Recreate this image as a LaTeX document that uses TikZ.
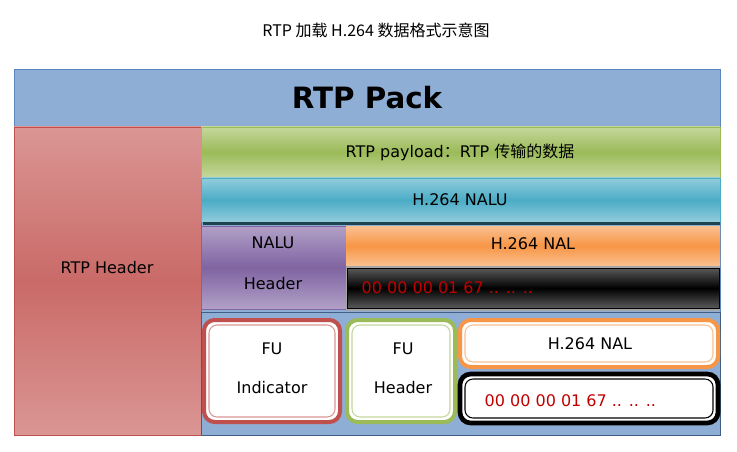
\documentclass[tikz,border=0pt]{standalone}
\usepackage{fontspec}
\setmainfont{DejaVu Sans}
\newfontfamily\cjk{Noto Sans CJK SC}
\definecolor{pblue}{HTML}{8EAED6}
\definecolor{pblueb}{HTML}{5B86C0}
\definecolor{pred}{HTML}{C0504D}
\definecolor{predl}{HTML}{DA9694}
\definecolor{pgreen}{HTML}{9BBB59}
\definecolor{pgreenl}{HTML}{C4D79B}
\definecolor{pcyan}{HTML}{4BACC6}
\definecolor{pcyanl}{HTML}{92CDDC}
\definecolor{ppurp}{HTML}{8064A2}
\definecolor{ppurpl}{HTML}{B1A0C7}
\definecolor{porange}{HTML}{F79646}
\definecolor{porangel}{HTML}{FAC090}
\definecolor{tred}{HTML}{C00000}
\tikzset{
  lbl/.style={font=\fontsize{12}{14}\selectfont},
  redtxt/.style={font=\fontsize{12}{14}\selectfont, text=tred, anchor=west},
  fubox/.style={rounded corners=8pt, line width=3pt, fill=white},
  inner/.style={rounded corners=6pt, draw=white, line width=0.8pt},
}
\begin{document}
\begin{tikzpicture}[x=0.75pt,y=-0.75pt]
\useasboundingbox (0,0) rectangle (737,452);
\node[font=\cjk\fontsize{12}{14}\selectfont] (title) at (376,30) {RTP 加载 H.264 数据格式示意图};
% outer
\fill[pblue] (14,69) rectangle (720,435);
\draw[pblueb] (14,69) rectangle (720,435);
\draw[pblueb] (14,69) rectangle (720,127);
\node[font=\bfseries\fontsize{22}{26}\selectfont] (pack) at (367,98) {RTP Pack};
% header
\shade[top color=predl, bottom color=predl, middle color=pred!85] (14,127) rectangle (201,435);
\draw[pred] (14,127) rectangle (201,435);
\node[lbl] (hdr) at (107,268) {RTP Header};
% payload
\shade[top color=pgreenl, bottom color=pgreenl, middle color=pgreen] (201,127) rectangle (720,177);
\draw[pgreen] (201,127) rectangle (720,177);
\node[lbl] (pl) at (460,152) {RTP payload{\cjk ：}RTP {\cjk 传输的数据}};
% nalu
\shade[top color=pcyanl, bottom color=pcyanl, middle color=pcyan] (201,178) rectangle (720,222);
\draw[pcyan] (201,178) rectangle (720,222);
\fill[pcyan!40!black] (203,222) rectangle (720,225);
\node[lbl] (nalu) at (460,200) {H.264 NALU};
% nalu header
\shade[top color=ppurpl, bottom color=ppurpl, middle color=ppurp] (201,226) rectangle (346,309);
\draw[ppurp] (201,226) rectangle (346,309);
\node[lbl] (nh1) at (273,243) {NALU};
\node[lbl] (nh2) at (273,284) {Header};
% h264 nal
\shade[top color=porangel, bottom color=porangel, middle color=porange] (346,226) rectangle (720,266);
\node[lbl] (nal) at (533,244) {H.264 NAL};
\fill[gray!70] (346,266) rectangle (720,311);
\shade[top color=gray!70!black, bottom color=gray!70!black, middle color=black] (347,268) rectangle (719,308);
\draw[black] (347,268) rectangle (719,308);
\node[redtxt] (b1) at (357,288) {00 00 00 01 67 .. .. ..};
% bottom
\draw[pblueb!70!black] (201,312) rectangle (720,435);
\draw[fubox, draw=pred] (204,320) rectangle (340,422);
\draw[inner, draw=pred!60] (209,325) rectangle (335,417);
\node[lbl] (fi1) at (272,349) {FU};
\node[lbl] (fi2) at (272,388) {Indicator};
\draw[fubox, draw=pgreen] (347,320) rectangle (455,422);
\draw[inner, draw=pgreen!60] (352,325) rectangle (450,417);
\node[lbl] (fh1) at (403,349) {FU};
\node[lbl] (fh2) at (403,388) {Header};
\draw[fubox, draw=porange] (460,320) rectangle (718,367);
\draw[inner, draw=porange!60] (465,325) rectangle (713,362);
\node[lbl] (n2) at (590,344) {H.264 NAL};
\draw[fubox, draw=black, line width=3.5pt] (460,374) rectangle (718,423);
\draw[inner, draw=black] (465,379) rectangle (713,418);
\node[redtxt] (b2) at (480,401) {00 00 00 01 67 .. .. ..};
\end{tikzpicture}
\end{document}
